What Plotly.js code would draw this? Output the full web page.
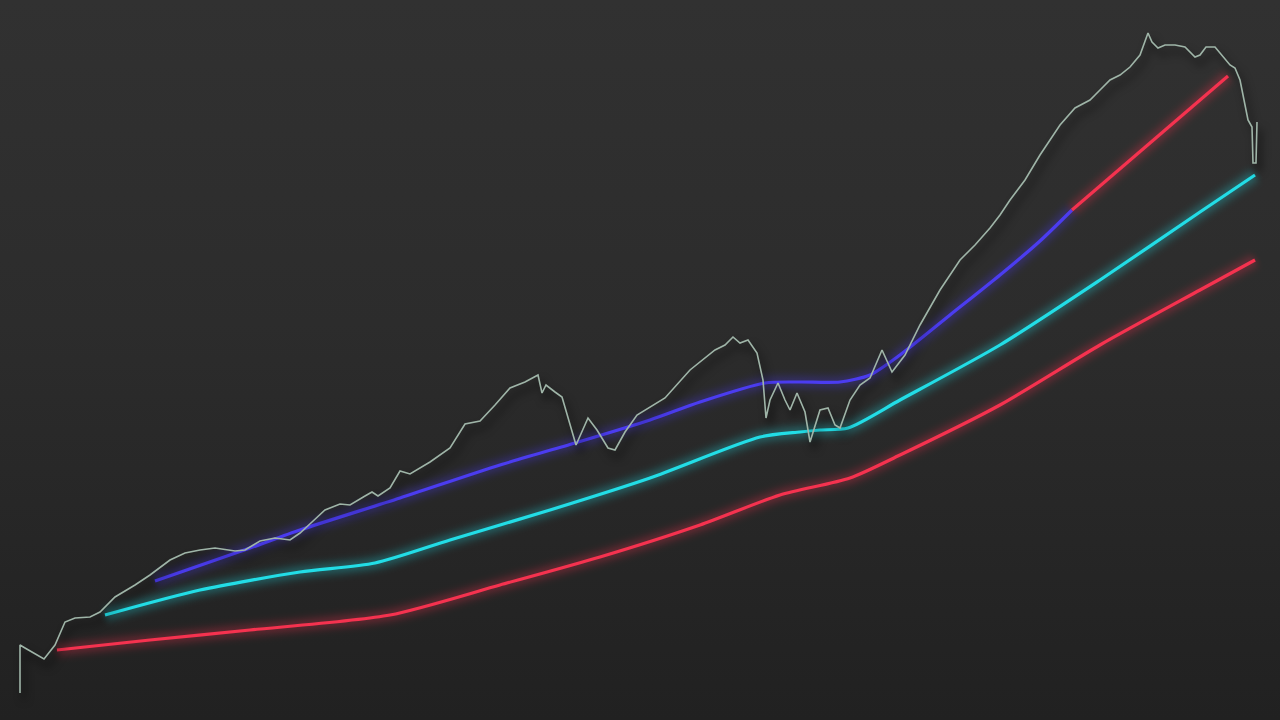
<!DOCTYPE html>
<html>
<head>
<meta charset="utf-8">
<script src="https://cdn.plot.ly/plotly-3.0.1.min.js"></script>
<style>
  html, body { margin:0; padding:0; width:1280px; height:720px; overflow:hidden;
    background: linear-gradient(180deg, #313131 0%, #2c2c2c 45%, #212121 100%); }
  #chart { width:1280px; height:720px; }
</style>
</head>
<body>
<div id="chart"></div>
<script>
// Time index (x) and value (y)
const priceX = [20,20,25,44,55,65,75,90,100,115,135,150,170,185,200,215,235,245,260,275,290,300,312,325,340,350,365,372,378,390,400,410,430,450,465,480,495,510,525,538,542,546,555,562,576,588,597,608,615,625,637,650,665,690,715,725,733,740,748,757,763,766,770,778,785,790,797,805,810,820,828,835,840,850,860,870,882,892,905,920,940,960,975,990,1000,1010,1025,1040,1060,1075,1090,1100,1110,1120,1130,1140,1148,1152,1158,1165,1175,1185,1190,1195,1200,1206,1215,1222,1230,1235,1240,1243,1248,1252,1253,1256,1257];
const priceY = [27,75,72,61,75,98,102,103,108,123,135,145,160,167,170,172,169,170,179,182,180,187,198,210,216,215,224,228,224,232,249,246,258,272,296,299,315,332,338,345,327,335,328,323,275,302,290,272,270,288,305,313,322,350,370,375,383,377,380,367,340,302,320,337,320,310,327,308,278,310,312,295,292,320,335,342,370,348,365,395,430,460,475,492,505,520,540,565,595,612,620,630,640,645,653,665,687,678,672,675,675,673,668,663,665,673,673,665,655,652,640,625,600,593,557,557,598];

const maX = [155,250,300,400,500,575,650,700,765,800,840,870,900,950,1000,1040,1072];
const maY = [139,172,190,222,255,277,300,318,337,338,338,345,365,405,445,479,510];

const maTopX = [1072,1228];
const maTopY = [510,644];

const midX = [105,200,300,375,450,550,650,760,800,820,848,900,1000,1100,1200,1255];
const midY = [105,130,148,157,180,210,242,283,288,290,292,320,375,440,508,545];

const lowX = [57,150,250,390,500,600,700,780,850,900,1000,1100,1200,1255];
const lowY = [70,80,90,105,135,163,195,225,242,265,315,375,430,460];

const BLUE = '#4b3cf0', CYAN = '#22dde6', RED = '#f5324f', PRICE = '#9fb5a8';

function glowTraces(x, y, color, name) {
  return [
    {x, y, mode:'lines', line:{color, width:18, shape:'spline', smoothing:0.7}, opacity:0.10, name:name+'-g2', hoverinfo:'skip'},
    {x, y, mode:'lines', line:{color, width:8, shape:'spline', smoothing:0.7}, opacity:0.22, name:name+'-g1', hoverinfo:'skip'},
    {x, y, mode:'lines', line:{color, width:3.2, shape:'spline', smoothing:0.7}, opacity:1, name:name}
  ];
}

const traces = [
  ...glowTraces(lowX, lowY, RED, 'low'),
  ...glowTraces(midX, midY, CYAN, 'mid'),
  ...glowTraces(maX, maY, BLUE, 'ma'),
  ...glowTraces(maTopX, maTopY, RED, 'matop'),
  {x:priceX, y:priceY, mode:'lines', line:{color:PRICE, width:1.6, shape:'linear'}, name:'price'}
];

const layout = {
  width:1280, height:720,
  margin:{l:0, r:0, t:0, b:0},
  paper_bgcolor:'rgba(0,0,0,0)', plot_bgcolor:'rgba(0,0,0,0)',
  showlegend:false,
  xaxis:{range:[0,1280], visible:false, fixedrange:true},
  yaxis:{range:[0,720], visible:false, fixedrange:true}
};

Plotly.newPlot('chart', traces, layout, {displayModeBar:false, staticPlot:true}).then(() => {
  const tr = document.querySelectorAll('.scatterlayer .trace');
  tr.forEach((t, i) => {
    if (i === tr.length - 1) {
      t.style.filter = 'drop-shadow(4px 7px 4px rgba(0,0,0,0.85))';
    } else if (i % 3 === 2) {
      t.style.filter = 'blur(0.4px)';
    } else {
      t.style.filter = 'blur(3px)';
    }
  });
});
</script>
</body>
</html>
